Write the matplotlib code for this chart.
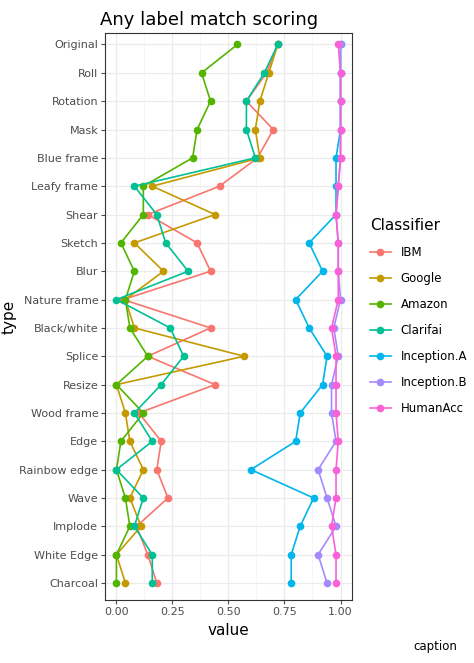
import matplotlib.pyplot as plt

types = ['Original', 'Roll', 'Rotation', 'Mask', 'Blue frame', 'Leafy frame', 'Shear',
         'Sketch', 'Blur', 'Nature frame', 'Black/white', 'Splice', 'Resize', 'Wood frame',
         'Edge', 'Rainbow edge', 'Wave', 'Implode', 'White Edge', 'Charcoal']

ibm = [0.72, 0.67, 0.58, 0.70, 0.63, 0.46, 0.14, 0.36, 0.42, 0.03, 0.42, 0.14, 0.44, 0.10,
       0.20, 0.18, 0.23, 0.09, 0.14, 0.18]
google = [0.72, 0.68, 0.64, 0.62, 0.64, 0.16, 0.44, 0.08, 0.21, 0.04, 0.08, 0.57, 0.00, 0.04,
          0.06, 0.12, 0.06, 0.11, 0.00, 0.04]
amazon = [0.54, 0.38, 0.42, 0.36, 0.34, 0.12, 0.12, 0.02, 0.08, 0.04, 0.06, 0.14, 0.00, 0.12,
          0.02, 0.00, 0.04, 0.06, 0.00, 0.00]
clarifai = [0.72, 0.66, 0.58, 0.58, 0.62, 0.08, 0.18, 0.22, 0.32, 0.00, 0.24, 0.30, 0.20, 0.08,
            0.16, 0.00, 0.12, 0.08, 0.16, 0.16]
inception_a = [1.00, 1.00, 1.00, 1.00, 0.98, 0.98, 0.98, 0.86, 0.92, 0.80, 0.86, 0.94, 0.92, 0.82,
               0.80, 0.60, 0.88, 0.82, 0.78, 0.78]
inception_b = [1.00, 1.00, 1.00, 1.00, 1.00, 0.99, 0.98, 0.99, 0.99, 1.00, 0.97, 0.99, 0.96, 0.96,
               0.98, 0.90, 0.94, 0.98, 0.90, 0.94]
human_acc = [0.99, 1.00, 1.00, 1.00, 1.00, 0.99, 0.98, 0.99, 0.99, 0.99, 0.96, 0.98, 0.98, 0.98,
             0.99, 0.98, 0.98, 0.96, 0.98, 0.98]

series = [('IBM', ibm, '#F8766D'), ('Google', google, '#C49A00'), ('Amazon', amazon, '#53B400'),
          ('Clarifai', clarifai, '#00C094'), ('Inception.A', inception_a, '#00B6EB'),
          ('Inception.B', inception_b, '#A58AFF'), ('HumanAcc', human_acc, '#FB61D7')]

fig = plt.figure(figsize=(4.74, 6.63), dpi=100)
ax = fig.add_axes([0.222, 0.095, 0.52, 0.855])
ypos = list(range(len(types)))
for name, vals, col in series:
    ax.plot(vals, ypos, color=col, lw=1.2, marker='o', ms=4.5, label=name)

ax.set_yticks(ypos)
ax.set_yticklabels(types)
ax.set_ylim(len(types) - 0.4, -0.4)
ax.set_xlim(-0.05, 1.05)
ax.set_xticks([0, 0.25, 0.5, 0.75, 1.0])
ax.set_xticklabels(['0.00', '0.25', '0.50', '0.75', '1.00'])
ax.set_xticks([0.125, 0.375, 0.625, 0.875], minor=True)
ax.grid(True, which='major', color='#EBEBEB', lw=0.9)
ax.grid(True, which='minor', axis='x', color='#F3F3F3', lw=0.5)
ax.set_axisbelow(True)
ax.tick_params(labelsize=8, colors='#4D4D4D', length=3, pad=2)
ax.tick_params(which='minor', length=0)
for s in ax.spines.values():
    s.set_color('#333333')
ax.set_xlabel('value', fontsize=11)
ax.set_ylabel('type', fontsize=11, labelpad=2)
ax.set_title('Any label match scoring', fontsize=13, loc='left', x=-0.02)
leg = ax.legend(title='Classifier', loc='center left', bbox_to_anchor=(1.03, 0.5),
                frameon=False, fontsize=8.5, title_fontsize=11, handlelength=1.8,
                labelspacing=1.1)
leg._legend_box.align = 'left'
fig.text(0.965, 0.02, 'caption', ha='right', fontsize=8.5)
fig.savefig('out.png')
